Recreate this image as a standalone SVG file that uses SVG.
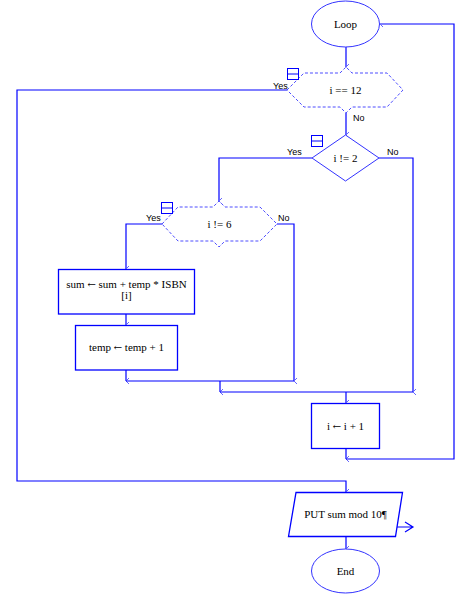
<svg xmlns="http://www.w3.org/2000/svg" width="475" height="600" viewBox="0 0 475 600">
<defs>
<style>
.c{fill:none;stroke:#0000ff;stroke-width:1.2}
.n{fill:#fff;stroke:#0000ff;stroke-width:1.3}
.e{fill:#fff;stroke:#3333ff;stroke-width:1}
.h{fill:#fff;stroke:#4d4dff;stroke-width:1;stroke-dasharray:3 2}
.d{fill:#fff;stroke:#3333ff;stroke-width:1}
.t{font-family:"Liberation Serif",serif;font-size:11px;fill:#000;text-anchor:middle}
.ar{font-family:"DejaVu Serif",serif;font-size:10px}
.l{font-family:"Liberation Sans",sans-serif;font-size:9px;fill:#000}
.i{fill:#fff;stroke:#0000ff;stroke-width:1}
</style>
<marker id="a" viewBox="0 0 8 8" refX="4" refY="7" markerWidth="8" markerHeight="8" orient="auto" markerUnits="userSpaceOnUse">
<path d="M1,4 L4,7 L7,4" fill="none" stroke="#6666ff" stroke-width="1"/>
</marker>
</defs>
<g id="connectors">
<path class="c" d="M346,47 V67" marker-end="url(#a)"/>
<path class="c" d="M346,113 V135" marker-end="url(#a)"/>
<path class="c" d="M287,90 H17 V481 H346 V492" marker-end="url(#a)"/>
<path class="c" d="M312,158 H219 V201" marker-end="url(#a)"/>
<path class="c" d="M379,158 H413 V392" marker-end="url(#a)"/>
<path class="c" d="M162,224 H126 V269" marker-end="url(#a)"/>
<path class="c" d="M126,314 V325" marker-end="url(#a)"/>
<path class="c" d="M126,370 V381" marker-end="url(#a)"/>
<path class="c" d="M126,381 H294"/>
<path class="c" d="M277,224 H294 V381" marker-end="url(#a)"/>
<path class="c" d="M220,381 V392" marker-end="url(#a)"/>
<path class="c" d="M220,392 H413"/>
<path class="c" d="M346,392 V403" marker-end="url(#a)"/>
<path class="c" d="M346,448 V459" marker-end="url(#a)"/>
<path class="c" d="M346,459 H454 V24 H380" marker-end="url(#a)"/>
<path class="c" d="M346,537 V549" marker-end="url(#a)"/>
<path class="c" d="M397,527 H413 M405,522 L413,527 L405,532"/>
<text class="l" x="273" y="89">Yes</text>
<text class="l" x="353" y="121">No</text>
<text class="l" x="287" y="155">Yes</text>
<text class="l" x="387" y="155">No</text>
<text class="l" x="146" y="221">Yes</text>
<text class="l" x="278" y="221">No</text>
</g>
<g id="loop">
<ellipse class="e" cx="345.5" cy="24" rx="34" ry="23"/>
<text class="t" x="345.5" y="28">Loop</text>
</g>
<g id="cond12">
<path class="h" d="M287,90 L304,73 H340 L346,67 L352,73 H387 L403,90 L387,107 H352 L346,113 L340,107 H304 Z"/>
<rect class="i" x="287.5" y="68.5" width="11" height="11"/>
<path class="i" d="M287.5,74 H298.5"/>
<text class="t" x="345.5" y="94">i == 12</text>
</g>
<g id="cond2">
<path class="d" d="M345.5,135 L379,158 L345.5,181 L312,158 Z"/>
<rect class="i" x="311.5" y="135.5" width="11" height="11"/>
<path class="i" d="M311.5,141 H322.5"/>
<text class="t" x="345.5" y="162">i != 2</text>
</g>
<g id="cond6">
<path class="h" d="M162,224 L178,207 H213 L219,201 L225,207 H260 L277,224 L260,241 H225 L219,247 L213,241 H178 Z"/>
<rect class="i" x="161.5" y="202.5" width="11" height="11"/>
<path class="i" d="M161.5,208 H172.5"/>
<text class="t" x="219.5" y="228">i != 6</text>
</g>
<g id="sum">
<rect class="n" x="58.5" y="269.5" width="136" height="44.5"/>
<text class="t" x="126.5" y="288">sum <tspan class="ar">←</tspan> sum + temp * ISBN</text>
<text class="t" x="126.5" y="299">[i]</text>
</g>
<g id="temp">
<rect class="n" x="75.5" y="325.5" width="102" height="44.5"/>
<text class="t" x="126.5" y="351">temp <tspan class="ar">←</tspan> temp  +  1</text>
</g>
<g id="inc">
<rect class="n" x="311.5" y="403.5" width="68" height="45"/>
<text class="t" x="345.5" y="430">i <tspan class="ar">←</tspan> i  +  1</text>
</g>
<g id="put">
<path class="n" d="M296,492.5 H402.5 L395.5,536.5 H288.5 Z"/>
<text class="t" x="345.5" y="518">PUT sum mod 10¶</text>
</g>
<g id="end">
<ellipse class="e" cx="345.5" cy="571" rx="34" ry="22"/>
<text class="t" x="345.5" y="575">End</text>
</g>
</svg>
